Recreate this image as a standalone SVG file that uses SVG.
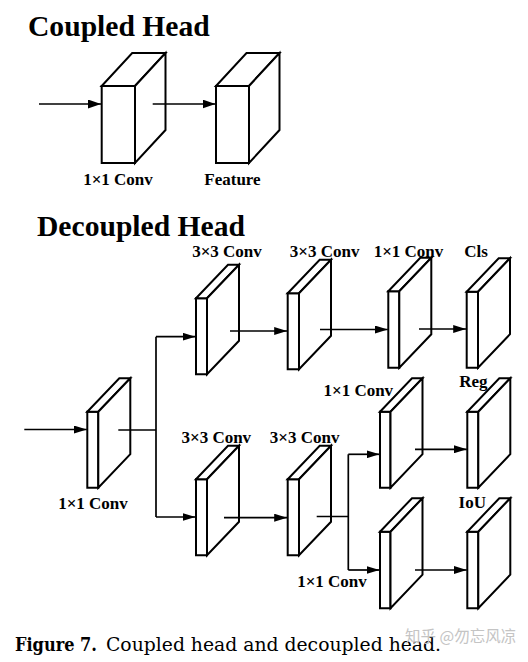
<svg xmlns="http://www.w3.org/2000/svg" width="528" height="662" viewBox="0 0 528 662">
<style>
.box path{fill:#fff;stroke:#000;stroke-width:2;stroke-linejoin:miter}
.lbl{font-family:"Liberation Serif","Times New Roman",serif;font-weight:bold;font-size:17px;text-anchor:middle;fill:#000}
.title{font-family:"Liberation Serif","Times New Roman",serif;font-weight:bold;font-size:29.6px;fill:#000}
.conn path{fill:none;stroke:#000;stroke-width:1.7}
.cap{font-family:"DejaVu Serif","Liberation Serif",serif;font-size:18px;fill:#000}
</style>
<defs>
<marker id="ah" markerUnits="userSpaceOnUse" markerWidth="13" markerHeight="9" refX="13" refY="4.5" orient="auto">
<path d="M0,0 L13,4.5 L0,9 z" fill="#000"/>
</marker>
<marker id="ahs" markerUnits="userSpaceOnUse" markerWidth="13" markerHeight="8" refX="13" refY="4" orient="auto">
<path d="M0,0 L13,4 L0,8 z" fill="#000"/>
</marker>
</defs>
<rect width="528" height="662" fill="#fff"/>

<text class="title" x="28" y="36">Coupled Head</text>
<text class="title" x="37" y="236">Decoupled Head</text>

<!-- Coupled head nodes -->
<g id="c_conv" class="box">
<path d="M101.7,86 h33.3 v77 h-33.3 z"/>
<path d="M101.7,86 l30.5,-33 h33.3 l-30.5,33 z"/>
<path d="M135,86 l30.5,-33 v77 l-30.5,33 z"/>
</g>
<g id="c_feature" class="box">
<path d="M216,86 h33 v77 h-33 z"/>
<path d="M216,86 l30.5,-33 h33 l-30.5,33 z"/>
<path d="M249,86 l30.5,-33 v77 l-30.5,33 z"/>
</g>

<!-- Decoupled head nodes -->
<g id="d_in" class="box">
<path d="M87.3,411.7 h11 v76 h-11 z"/>
<path d="M87.3,411.7 l32,-33.5 h11 l-32,33.5 z"/>
<path d="M98.3,411.7 l32,-33.5 v76 l-32,33.5 z"/>
</g>
<g id="d_t1" class="box">
<path d="M196,298.3 h11 v76 h-11 z"/>
<path d="M196,298.3 l32,-33.5 h11 l-32,33.5 z"/>
<path d="M207,298.3 l32,-33.5 v76 l-32,33.5 z"/>
</g>
<g id="d_t2" class="box">
<path d="M287.7,293.3 h11.3 v76 h-11.3 z"/>
<path d="M287.7,293.3 l32,-33.5 h11.3 l-32,33.5 z"/>
<path d="M299,293.3 l32,-33.5 v76 l-32,33.5 z"/>
</g>
<g id="d_t3" class="box">
<path d="M388.3,291.3 h11 v76.5 h-11 z"/>
<path d="M388.3,291.3 l32,-33.5 h11 l-32,33.5 z"/>
<path d="M399.3,291.3 l32,-33.5 v76.5 l-32,33.5 z"/>
</g>
<g id="d_cls" class="box">
<path d="M466.7,291.7 h11.3 v76 h-11.3 z"/>
<path d="M466.7,291.7 l32,-33.5 h11.3 l-32,33.5 z"/>
<path d="M478,291.7 l32,-33.5 v76 l-32,33.5 z"/>
</g>
<g id="d_b1" class="box">
<path d="M196,479.3 h11 v76 h-11 z"/>
<path d="M196,479.3 l32,-33.5 h11 l-32,33.5 z"/>
<path d="M207,479.3 l32,-33.5 v76 l-32,33.5 z"/>
</g>
<g id="d_b2" class="box">
<path d="M287.7,479.3 h11.3 v76 h-11.3 z"/>
<path d="M287.7,479.3 l32,-33.5 h11.3 l-32,33.5 z"/>
<path d="M299,479.3 l32,-33.5 v76 l-32,33.5 z"/>
</g>
<g id="d_r1" class="box">
<path d="M380,411.7 h10.5 v76 h-10.5 z"/>
<path d="M380,411.7 l32,-33.5 h10.5 l-32,33.5 z"/>
<path d="M390.5,411.7 l32,-33.5 v76 l-32,33.5 z"/>
</g>
<g id="d_reg" class="box">
<path d="M467.3,411.7 h11 v76 h-11 z"/>
<path d="M467.3,411.7 l32,-33.5 h11 l-32,33.5 z"/>
<path d="M478.3,411.7 l32,-33.5 v76 l-32,33.5 z"/>
</g>
<g id="d_i1" class="box">
<path d="M380,531.7 h10.5 v76.5 h-10.5 z"/>
<path d="M380,531.7 l32,-33.5 h10.5 l-32,33.5 z"/>
<path d="M390.5,531.7 l32,-33.5 v76.5 l-32,33.5 z"/>
</g>
<g id="d_iou" class="box">
<path d="M467.3,531.7 h11 v76.5 h-11 z"/>
<path d="M467.3,531.7 l32,-33.5 h11 l-32,33.5 z"/>
<path d="M478.3,531.7 l32,-33.5 v76.5 l-32,33.5 z"/>
</g>

<!-- Connectors -->
<g id="connectors" class="conn">
<path d="M39,104 H101" marker-end="url(#ah)"/>
<path d="M152.7,104 H215.5" marker-end="url(#ah)"/>
<path d="M24.3,429.5 H86.8" marker-end="url(#ahs)"/>
<path d="M118.3,430 H156"/>
<path d="M156,336.7 V517"/>
<path d="M156,336.7 H195.5" marker-end="url(#ahs)"/>
<path d="M156,517 H195.5" marker-end="url(#ahs)"/>
<path d="M230,331 H287.2" marker-end="url(#ahs)"/>
<path d="M320,329.5 H387.8" marker-end="url(#ahs)"/>
<path d="M419,329 H466.2" marker-end="url(#ahs)"/>
<path d="M224,517.7 H287.2" marker-end="url(#ahs)"/>
<path d="M316.7,516.5 H348.3"/>
<path d="M348.3,454.3 V570"/>
<path d="M348.3,454.3 H379.5" marker-end="url(#ahs)"/>
<path d="M348.3,570 H379.5" marker-end="url(#ahs)"/>
<path d="M415,449.3 H466.8" marker-end="url(#ahs)"/>
<path d="M415,570 H466.8" marker-end="url(#ahs)"/>
</g>

<!-- Labels -->
<text class="lbl" x="118" y="185">1×1 Conv</text>
<text class="lbl" x="232.5" y="185">Feature</text>
<text class="lbl" x="227" y="257">3×3 Conv</text>
<text class="lbl" x="324.7" y="256.7">3×3 Conv</text>
<text class="lbl" x="408.5" y="256.7">1×1 Conv</text>
<text class="lbl" x="476" y="256.7">Cls</text>
<text class="lbl" x="93" y="509.3">1×1 Conv</text>
<text class="lbl" x="216.3" y="442.7">3×3 Conv</text>
<text class="lbl" x="304.7" y="442.7">3×3 Conv</text>
<text class="lbl" x="358.3" y="395.7">1×1 Conv</text>
<text class="lbl" x="473.3" y="386.7">Reg</text>
<text class="lbl" x="472.3" y="508.3">IoU</text>
<text class="lbl" x="332" y="586.7">1×1 Conv</text>

<!-- Caption -->
<text class="cap" x="15" y="651" font-weight="bold" textLength="82" lengthAdjust="spacingAndGlyphs">Figure 7.</text>
<text class="cap" x="106" y="651" textLength="335" lengthAdjust="spacingAndGlyphs">Coupled head and decoupled head.</text>
<text x="405" y="642" font-family="'Noto Sans CJK SC',sans-serif" font-size="15.5" fill="#c4c4c4">知乎 @勿忘风凉</text>
</svg>
